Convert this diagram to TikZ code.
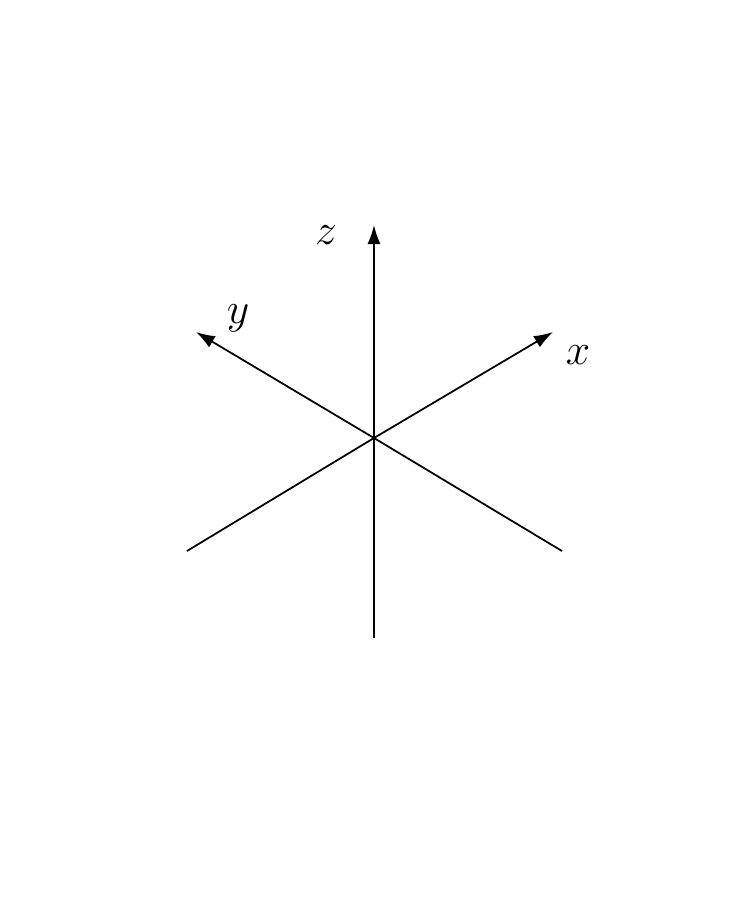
\documentclass[tikz,border=0pt]{standalone}
\usetikzlibrary{arrows.meta,positioning}

\begin{document}
\begin{tikzpicture}[
    % Define styles for axes and labels
    axis/.style={line width=1pt, draw=black},
    axis_arrow/.style={axis, -{Latex[length=3.8mm,width=2.6mm]}},
    axis_label/.style={font=\fontsize{24}{28}\selectfont, inner sep=0pt}
]

% Fix the page size
\useasboundingbox (-7.48,-9.24) rectangle (7.52,8.76);

% Origin and axis end points
\coordinate (origin) at (0,0);
\coordinate (xtip) at (3.58,2.12);
\coordinate (xend) at (-3.74,-2.26);
\coordinate (ytip) at (-3.56,2.12);
\coordinate (yend) at (3.76,-2.26);
\coordinate (ztip) at (0,4.26);
\coordinate (zend) at (0,-4.0);

% Negative halves of the axes
\draw[axis] (origin) -- (xend);
\draw[axis] (origin) -- (yend);
\draw[axis] (origin) -- (zend);

% Positive halves with arrows
\draw[axis_arrow] (origin) -- (xtip);
\draw[axis_arrow] (origin) -- (ytip);
\draw[axis_arrow] (origin) -- (ztip);

% Axis labels
\node[axis_label] (xlabel) at (4.08,1.66) {$x$};
\node[axis_label] (ylabel) at (-2.72,2.40) {$y$};
\node[axis_label] (zlabel) at (-0.96,4.06) {$z$};

\end{tikzpicture}
\end{document}
